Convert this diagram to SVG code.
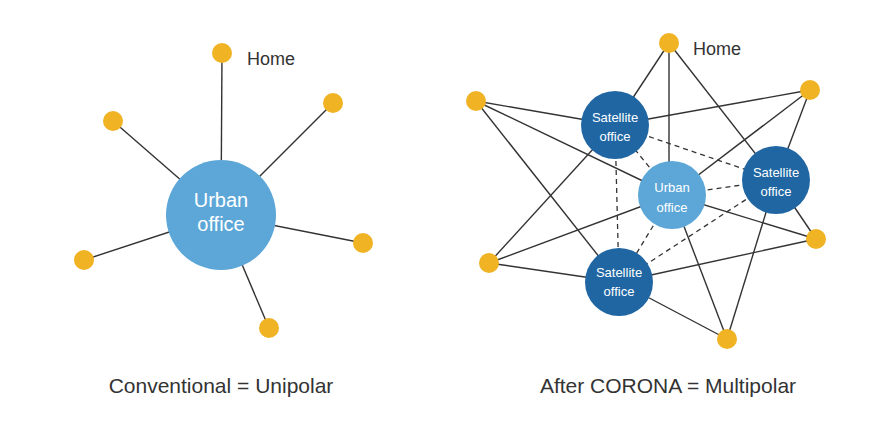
<svg xmlns="http://www.w3.org/2000/svg" width="896" height="433" viewBox="0 0 896 433">
<style>
.l{stroke:#333;stroke-width:1.4;fill:none}
.d{stroke:#333;stroke-width:1.3;stroke-dasharray:5,4;fill:none}
.h{fill:#F0B323}
.u{fill:#5DA7D8}
.s{fill:#1F66A3}
text{font-family:"Liberation Sans",Arial,sans-serif;fill:#333}
.w{fill:#fff;text-anchor:middle}
</style>
<rect width="896" height="433" fill="#fff"/>
<g id="connectors">
<line class="l" x1="221" y1="215" x2="222" y2="53"/>
<line class="l" x1="221" y1="215" x2="333" y2="103"/>
<line class="l" x1="221" y1="215" x2="113" y2="121"/>
<line class="l" x1="221" y1="215" x2="363" y2="243"/>
<line class="l" x1="221" y1="215" x2="84" y2="260"/>
<line class="l" x1="221" y1="215" x2="269" y2="328"/>
<g class="l">
<line x1="669" y1="43" x2="615" y2="125"/><line x1="669" y1="43" x2="669" y2="195"/><line x1="669" y1="43" x2="776" y2="180"/>
<line x1="476" y1="101" x2="615" y2="125"/><line x1="476" y1="101" x2="672" y2="195"/><line x1="476" y1="101" x2="619" y2="282"/>
<line x1="810" y1="90" x2="615" y2="125"/><line x1="810" y1="90" x2="672" y2="195"/><line x1="810" y1="90" x2="776" y2="180"/>
<line x1="489" y1="263" x2="615" y2="125"/><line x1="489" y1="263" x2="672" y2="195"/><line x1="489" y1="263" x2="619" y2="282"/>
<line x1="816" y1="239" x2="672" y2="195"/><line x1="816" y1="239" x2="776" y2="180"/><line x1="816" y1="239" x2="619" y2="282"/>
<line x1="727" y1="339" x2="672" y2="195"/><line x1="727" y1="339" x2="776" y2="180"/><line x1="727" y1="339" x2="619" y2="282"/>
</g>
<g class="d">
<line x1="672" y1="195" x2="615" y2="125"/><line x1="672" y1="195" x2="776" y2="180"/><line x1="672" y1="195" x2="619" y2="282"/>
<line x1="615" y1="125" x2="776" y2="180"/><line x1="615" y1="125" x2="619" y2="282"/><line x1="776" y1="180" x2="619" y2="282"/>
</g>
</g>
<g id="left-urban"><circle class="u" cx="221" cy="215" r="55"/><text class="w" x="221" y="207" font-size="20">Urban</text><text class="w" x="221" y="231" font-size="20">office</text></g>
<g id="left-homes">
<circle class="h" cx="222" cy="53" r="10"/><circle class="h" cx="333" cy="103" r="10"/><circle class="h" cx="113" cy="121" r="10"/>
<circle class="h" cx="363" cy="243" r="10"/><circle class="h" cx="84" cy="260" r="10"/><circle class="h" cx="269" cy="328" r="10"/>
<text x="247" y="65" font-size="18">Home</text>
</g>
<g id="right-homes">
<circle class="h" cx="669" cy="43" r="10"/><circle class="h" cx="476" cy="101" r="10"/><circle class="h" cx="810" cy="90" r="10"/>
<circle class="h" cx="489" cy="263" r="10"/><circle class="h" cx="816" cy="239" r="10"/><circle class="h" cx="727" cy="339" r="10"/>
<text x="693" y="55" font-size="18">Home</text>
</g>
<g id="urban"><circle class="u" cx="672" cy="195" r="34"/><text class="w" x="672" y="192" font-size="13">Urban</text><text class="w" x="672" y="212" font-size="13">office</text></g>
<g id="sat-a"><circle class="s" cx="615" cy="125" r="34"/><text class="w" x="615" y="122" font-size="13">Satellite</text><text class="w" x="615" y="141" font-size="13">office</text></g>
<g id="sat-b"><circle class="s" cx="776" cy="180" r="34"/><text class="w" x="776" y="177" font-size="13">Satellite</text><text class="w" x="776" y="196" font-size="13">office</text></g>
<g id="sat-c"><circle class="s" cx="619" cy="282" r="34"/><text class="w" x="619" y="277" font-size="13">Satellite</text><text class="w" x="619" y="296" font-size="13">office</text></g>
<text x="221" y="393" font-size="21" text-anchor="middle">Conventional = Unipolar</text>
<text x="668" y="393" font-size="21" text-anchor="middle">After CORONA = Multipolar</text>
</svg>
